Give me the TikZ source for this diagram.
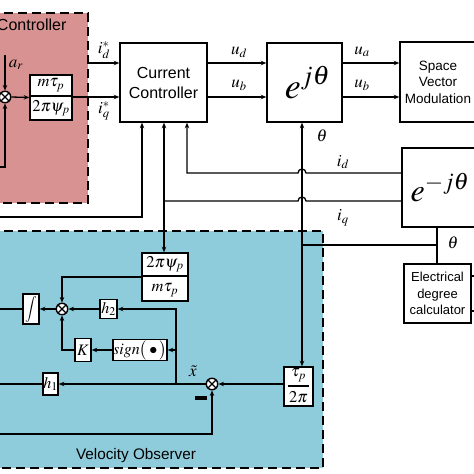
\documentclass[tikz,border=0pt]{standalone}
\usepackage{mathptmx}
\usepackage[no-math]{fontspec}
\setsansfont{Liberation Sans}
\usetikzlibrary{arrows.meta}
\definecolor{redfill}{RGB}{216,146,146}
\definecolor{bluefill}{RGB}{143,204,219}
\begin{document}
\begin{tikzpicture}[x=1pt,y=-1pt,
  line width=1.3pt,
  arr/.style={-{Stealth[length=5.5pt,width=4.5pt]}},
  blk/.style={draw,fill=white,inner sep=0pt,line width=1.5pt,font=\fontsize{16}{18}\selectfont},
  mth/.style={inner sep=0pt,font=\fontsize{16.5}{18}\selectfont},
  lab/.style={inner sep=0pt,font=\fontsize{17}{18}\selectfont},
  dashbox/.style={line width=1.8pt,dash pattern=on 9pt off 5pt},
  sumnode/.style={circle,draw,fill=white,minimum size=11.5pt,inner sep=0pt,line width=1.4pt,
    path picture={\draw[line width=1.3pt] (path picture bounding box.north west)--(path picture bounding box.south east) (path picture bounding box.north east)--(path picture bounding box.south west);}},
  sans/.style 2 args={font=\sffamily\fontsize{#1}{#2}\selectfont,align=center}
]
\useasboundingbox (0,0) rectangle (474,474);
\clip (0,0) rectangle (474,474);
% backgrounds
\fill[redfill] (-10,13) rectangle (88,203);
\draw[dashbox] (-10,13) -- (88,13) -- (88,203) -- (-10,203);
\fill[bluefill] (-10,231) rectangle (323,468);
\draw[dashbox] (-10,231) -- (323,231) -- (323,468) -- (-10,468);

\node[anchor=east,inner sep=0pt,font=\sffamily\fontsize{16}{18}\selectfont] (rc) at (67,25) {Controller};
\node[inner sep=0pt,font=\sffamily\fontsize{15.3}{18}\selectfont] (vo) at (136,456) {Velocity Observer};

% coordinates
\coordinate (r1) at (0,63);
\coordinate (r2) at (0,97);
\coordinate (yd) at (0,173);
\coordinate (yq) at (0,201);
\coordinate (xd) at (187,0);
\coordinate (xq) at (164,0);
\coordinate (x142) at (142,0);
\coordinate (xb) at (176,0);
\coordinate (arIn) at (5,55);
\coordinate (lin1) at (0,167);
\coordinate (lin2) at (0,217);
\coordinate (idS) at (88,63);
\coordinate (thj) at (302,245);
\coordinate (thr) at (437,245);
\coordinate (intL) at (0,309);
\coordinate (h1L) at (0,384);
\coordinate (botL) at (0,434);
\coordinate (e1) at (474,276);
\coordinate (e2) at (474,311);

% top nodes
\node[sumnode] (s1) at (5,97) {};
\node[blk,minimum width=42pt,minimum height=45pt] (g1) at (51,97.5) {};
\draw[line width=1.2pt] ([yshift=1.5pt]g1.west) -- ([yshift=1.5pt]g1.east);
\node[mth] (g1n) at (51,85) {$m\tau_p$};
\node[mth] (g1d) at (51,108) {$2\pi\psi_p$};

\node[blk,minimum width=87pt,minimum height=79pt,sans={16}{20}] (cc) at (163.5,82.5) {Current\\Controller};
\node[blk,minimum width=75pt,minimum height=79pt] (ej) at (304.5,82.5) {\fontsize{36}{36}\selectfont\hspace*{6pt}$e^{j\theta}$};
\node[blk,minimum width=76pt,minimum height=80pt,sans={13.5}{16.5}] (svm) at (438,82) {Space\\Vector\\Modulation};
\node[blk,minimum width=76pt,minimum height=79pt] (emj) at (440,187.5) {\fontsize{32}{32}\selectfont$e^{-j\theta}$};
\node[blk,minimum width=67pt,minimum height=59pt,sans={13}{16.5}] (edc) at (437.5,293.5) {Electrical\\degree\\calculator};

% blue nodes
\node[blk,minimum width=46pt,minimum height=48pt] (g2) at (165,277) {};
\draw[line width=1.2pt] ([yshift=1pt]g2.west) -- ([yshift=1pt]g2.east);
\node[mth] (g2n) at (165,264) {$2\pi\psi_p$};
\node[mth] (g2d) at (165,290) {$m\tau_p$};
\node[blk,minimum width=16pt,minimum height=30pt] (int) at (31,309) {\fontsize{13}{14}\selectfont$\displaystyle\int$};
\node[sumnode] (s2) at (62,309) {};
\node[blk,minimum width=17pt,minimum height=19pt] (h2) at (108.5,309) {$h_2$};
\node[blk,minimum width=16pt,minimum height=23pt] (kk) at (83,350) {$K$};
\node[blk,minimum width=54pt,minimum height=21pt] (sg) at (140,350) {$sign\big(\bullet\big)$};
\node[blk,minimum width=15pt,minimum height=22pt] (h1) at (50.5,384) {$h_1$};
\node[sumnode] (s3) at (212,384) {};
\node[blk,minimum width=29pt,minimum height=39pt] (tau) at (298.5,386.5) {};
\draw[line width=1.2pt] (288,386) -- (309,386);
\node[mth] (taun) at (298.5,375) {$\tau_p$};
\node[mth] (taud) at (298.5,397) {$2\pi$};

% top connectors
\draw[arr] (arIn) -- (s1.north);
\node[lab] (lar) at (16,65) {$a_r$};
\draw[arr] (lin1) -| (s1.south);
\draw[arr] (s1.east) -- (g1.west);
\draw[arr] (g1.east |- r2) -- (cc.west |- r2);
\draw[arr] (idS) -- (cc.west |- r1);
\node[lab] (lids) at (104,50) {$i_d^*$};
\node[lab] (liqs) at (104,111) {$i_q^*$};
\draw[arr] (cc.east |- r1) -- (ej.west |- r1);
\draw[arr] (cc.east |- r2) -- (ej.west |- r2);
\node[lab] (lud) at (239,52) {$u_d$};
\node[lab] (lub) at (239,85) {$u_b$};
\draw[arr] (ej.east |- r1) -- (svm.west |- r1);
\draw[arr] (ej.east |- r2) -- (svm.west |- r2);
\node[lab] (lua) at (362,52) {$u_a$};
\node[lab] (lub2) at (362,85) {$u_b$};

% theta
\draw[arr] (thj) -- (ej.south -| thj);
\draw[arr] (thj) -- (tau.north -| thj);
\draw (emj.south -| thr) -- (edc.north -| thr);
\draw (thr) -- (thj);
\node[lab] (lth1) at (322,136) {$\theta$};
\node[lab] (lth2) at (453,243) {$\theta$};

% currents
\draw[arr] (emj.west |- yd) -- (306,173) arc[start angle=0,end angle=-180,radius=4] -- (xd |- yd) -- (xd |- cc.south);
\draw (emj.west |- yq) -- (306,201) arc[start angle=0,end angle=-180,radius=4] -- (xq |- yq);
\draw[arr] (xq |- yq) -- (xq |- cc.south);
\draw[arr] (xq |- yq) -- (xq |- g2.north);
\node[lab] (lid) at (343,162) {$i_d$};
\node[lab] (liq) at (343,218) {$i_q$};
\draw[arr] (lin2) -- (x142 |- lin2) -- (x142 |- cc.south);

% blue connectors
\draw[arr] (g2.west) -| (s2.north);
\draw[arr] (xb |- s3) -- (xb |- h2) -- (h2.east);
\draw[arr] (xb |- sg) -- (sg.east);
\draw[arr] (h2.west) -- (s2.east);
\draw[arr] (sg.west) -- (kk.east);
\draw[arr] (kk.west) -| (s2.south);
\draw[arr] (s2.west) -- (int.east);
\draw (int.west) -- (intL);
\draw[arr] (s3.west) -- (h1.east);
\draw (h1.west) -- (h1L);
\draw[arr] (tau.west |- s3) -- (s3.east);
\draw[arr] (botL) -| (s3.south);
\fill (195,395.5) rectangle (207,400);
\node[lab] (lxt) at (193,371) {$\tilde{x}$};

% stubs at right of calculator
\draw (edc.east |- e1) -- (e1);
\draw (edc.east |- e2) -- (e2);
\end{tikzpicture}
\end{document}
